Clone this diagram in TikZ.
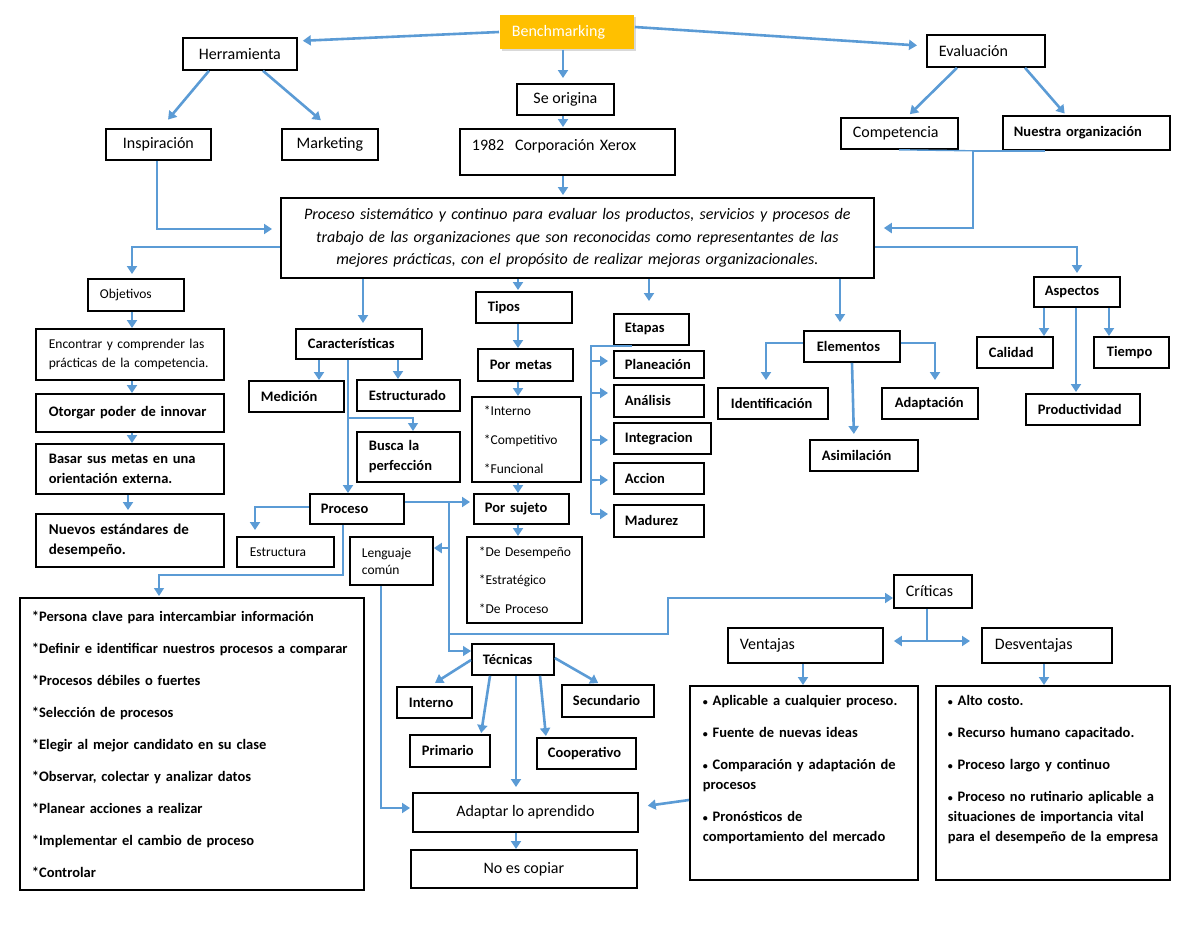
\documentclass[tikz,border=0pt]{standalone}
\usepackage{fontspec}
\setmainfont{Carlito}
\usetikzlibrary{arrows.meta,shadows}
\definecolor{ln}{HTML}{5B9BD5}
\definecolor{gold}{HTML}{FFC000}
\newcommand\bul{\raisebox{0.8pt}{\fontsize{10}{10}\selectfont\textbullet}\ }
\newcommand\bxc[7][]{%
  \pgfmathsetmacro\bxW{#5-#3}\pgfmathsetmacro\bxH{#6-#4}%
  \node[bxs,minimum width=\bxW pt,minimum height=\bxH pt,align=center,#1] (#2) at (#3,#4) {#7};}
\newcommand\bxl[8][]{%
  \pgfmathsetmacro\bxW{#5-#3}\pgfmathsetmacro\bxH{#6-#4}\pgfmathsetmacro\bxT{#5-#3-2*#7}%
  \node[bxs,minimum width=\bxW pt,minimum height=\bxH pt,inner xsep=#7pt,text width=\bxT pt,align=left,#1] (#2) at (#3,#4) {#8};}
\begin{document}
\begin{tikzpicture}[x=1pt,y=-1pt,
  bxs/.style={draw=black,line width=1.8pt,anchor=north west,inner ysep=0pt,inner xsep=0pt,fill=white},
  rg/.style={font=\fontsize{16}{19}\selectfont},
  bd/.style={font=\fontsize{14.5}{20}\selectfont\bfseries},
  sm/.style={font=\fontsize{13.5}{18}\selectfont},
  con/.style={draw=ln,line width=2.6pt,-{Triangle[length=8pt,width=10pt]}},
  tcon/.style={draw=ln,line width=1.4pt,-{Triangle[length=8pt,width=10pt]}},
  mcon/.style={draw=ln,line width=1.8pt,-{Triangle[length=8pt,width=10pt]}},
  pln/.style={draw=ln,line width=2.6pt},
  tln/.style={draw=ln,line width=1.4pt}]
\useasboundingbox (0,0) rectangle (1200,927);
% top
\bxl[rg,draw=none,fill=gold,text=white,drop shadow={opacity=0.3,shadow xshift=2pt,shadow yshift=-2pt}]{bench}{499}{14}{633}{48}{12}{Benchmarking}
\bxc[rg]{herr}{182}{37}{296}{69}{Herramienta}
\bxc[rg]{insp}{105}{128}{210}{159}{Inspiración}
\bxc[rg]{mark}{281}{128}{377}{159}{Marketing}
\bxc[rg]{seo}{516}{83}{613}{114}{Se origina}
\bxl[rg]{xerox}{459}{128}{674}{174}{12}{1982\ \ Corporación Xerox\\[-6pt]\mbox{}}
\bxl[rg]{eval}{926}{34}{1044}{66}{12}{Evaluación}
\bxl[rg]{comp}{840}{117}{957}{148}{12}{Competencia}
\bxl[bd]{nues}{1002}{115}{1169}{149}{11}{Nuestra organización}
\bxl[font=\fontsize{16}{22.5}\selectfont\itshape,align=center]{main}{280}{197}{873}{277}{6}{Proceso sistemático y continuo para evaluar los productos, servicios y procesos de\\trabajo de las organizaciones que son reconocidas como representantes de las\\mejores prácticas, con el propósito de realizar mejoras organizacionales.}
% objetivos
\bxl[sm]{obj}{87}{278}{183}{310}{12}{Objetivos}
\bxl[font=\fontsize{13.5}{18.5}\selectfont]{enc}{35}{328}{223}{379}{13}{Encontrar y comprender las\\prácticas de la competencia.}
\bxl[bd]{oto}{35}{393}{223}{431}{13}{Otorgar poder de innovar}
\bxl[bd]{bas}{35}{443}{223}{493}{13}{Basar sus metas en una\\orientación externa.}
\bxl[font=\fontsize{15}{20}\selectfont\bfseries]{nue}{35}{513}{223}{566}{13}{Nuevos estándares de\\desempeño.}
% caracteristicas
\bxl[bd]{car}{295}{328}{421}{358}{12}{Características}
\bxl[bd]{med}{248}{380}{343}{411}{12}{Medición}
\bxl[bd]{est}{356}{379}{459}{410}{12}{Estructurado}
\bxl[bd]{bus}{356}{431}{459}{481}{12}{Busca la\\perfección}
\bxl[bd]{pro}{309}{493}{403}{523}{11}{Proceso}
\bxl[sm]{estr}{236}{536}{333}{566}{13}{Estructura}
\bxl[font=\fontsize{13.5}{17}\selectfont]{len}{349}{536}{432}{584}{12}{Lenguaje\\común}
% tipos
\bxl[bd]{tip}{475}{291}{571}{322}{12}{Tipos}
\bxl[bd]{pme}{477}{348}{572}{380}{12}{Por metas}
\bxl[font=\fontsize{13.5}{29}\selectfont]{pml}{471}{396}{580}{481}{12}{\mbox{*Interno}\\\mbox{*Competitivo}\\\mbox{*Funcional}}
\bxl[bd]{psu}{473}{493}{568}{523}{11}{Por sujeto}
\bxl[font=\fontsize{13.5}{28.5}\selectfont]{psl}{466}{536}{581}{622}{12}{\mbox{*De Desempeño}\\\mbox{*Estratégico}\\\mbox{*De Proceso}}
% etapas
\bxl[bd]{eta}{613}{313}{688}{344}{11}{Etapas}
\bxl[bd]{pla}{613}{350}{703}{377}{11}{Planeación}
\bxl[bd]{ana}{613}{384}{703}{416}{11}{Análisis}
\bxl[bd]{int}{613}{422}{710}{453}{11}{Integracion}
\bxl[bd]{acc}{613}{462}{703}{493}{11}{Accion}
\bxl[bd]{mad}{613}{504}{703}{536}{11}{Madurez}
% elementos / aspectos
\bxl[bd]{ele}{803}{330}{899}{361}{13}{Elementos}
\bxl[bd]{ide}{717}{387}{827}{418}{13}{Identificación}
\bxl[bd]{ada}{881}{387}{977}{418}{13}{Adaptación}
\bxl[bd]{asi}{809}{439}{917}{470}{12}{Asimilación}
\bxl[bd]{asp}{1033}{276}{1119}{306}{11}{Aspectos}
\bxl[bd]{cal}{976}{336}{1052}{367}{12}{Calidad}
\bxl[bd]{tie}{1093}{336}{1168}{367}{13}{Tiempo}
\bxl[bd]{prd}{1025}{393}{1139}{424}{12}{Productividad}
% big list
\bxl[font=\fontsize{14.5}{32}\selectfont\bfseries]{big}{19}{597}{363}{889}{12}{\mbox{*Persona clave para intercambiar información}\\\mbox{*Definir e identificar nuestros procesos a comparar}\\\mbox{*Procesos débiles o fuertes}\\\mbox{*Selección de procesos}\\\mbox{*Elegir al mejor candidato en su clase}\\\mbox{*Observar, colectar y analizar datos}\\\mbox{*Planear acciones a realizar}\\\mbox{*Implementar el cambio de proceso}\\\mbox{*Controlar}}
% tecnicas
\bxl[bd]{tec}{471}{643}{553}{674}{11}{Técnicas}
\bxl[bd]{tin}{396}{686}{471}{717}{12}{Interno}
\bxl[bd]{sec}{561}{684}{653}{716}{11}{Secundario}
\bxl[bd]{pri}{409}{734}{489}{766}{12}{Primario}
\bxl[bd]{coo}{536}{737}{635}{768}{11}{Cooperativo}
\bxc[rg]{adap}{412}{792}{637}{831}{Adaptar lo aprendido}
\bxc[rg]{noes}{410}{849}{636}{887}{No es copiar}
% criticas
\bxl[rg]{cri}{893}{574}{971}{607}{12}{Críticas}
\bxl[rg]{ven}{727}{627}{882}{662}{12}{Ventajas}
\bxl[rg]{des}{981}{627}{1111}{662}{13}{Desventajas}
\bxl[font=\fontsize{14.5}{20}\selectfont\bfseries]{vl}{689}{685}{917}{879}{13}{\bul Aplicable a cualquier proceso.\\[12pt]\bul Fuente de nuevas ideas\\[12pt]\bul Comparación y adaptación de\\procesos\\[12pt]\bul Pronósticos de\\comportamiento del mercado\\[8pt]\mbox{}}
\bxl[font=\fontsize{14.5}{20}\selectfont\bfseries]{dl}{935}{685}{1169}{879}{12}{\bul Alto costo.\\[12pt]\bul Recurso humano capacitado.\\[12pt]\bul Proceso largo y continuo\\[12pt]\bul Proceso no rutinario aplicable a\\\mbox{situaciones de importancia vital}\\\mbox{para el desempeño de la empresa}\\[8pt]\mbox{}}
% ---------- connectors ----------
\draw[con,shorten >=5pt] (bench.west |- 0,32) -- (herr.east |- 0,41);
\draw[con,shorten >=9pt] (bench.east |- 0,27) -- (eval.west |- 0,46);
\draw[con,shorten >=5pt] (bench.south -| 563,0) -- (seo.north -| 563,0);
\draw[con,shorten >=1pt] (seo.south -| 563,0) -- (xerox.north -| 563,0);
\draw[con,shorten >=2pt] (xerox.south -| 563,0) -- (main.north -| 563,0);
\draw[con,shorten >=11pt] (herr.south -| 209,0) -- (insp.north -| 161,0);
\draw[con,shorten >=12pt] (herr.south -| 263,0) -- (mark.north -| 330,0);
\draw[con,shorten >=8pt] (insp.south -| 157,0) |- (main.west |- 0,229);
\draw[tln] (comp.south -| 899,0) -- (nues.south -| 973,0);
\draw[con,shorten >=9pt] (nues.south -| 1045,0) -| (973,228) -- (main.east |- 0,228);
\draw[con,shorten >=4pt] (eval.south -| 957,0) -- (comp.north -| 907,0);
\draw[con,shorten >=2pt] (eval.south -| 1025,0) -- (nues.north -| 1066,0);
\draw[con,shorten >=4pt] (main.west |- 0,247) -| (obj.north -| 132,0);
\draw[con,shorten >=5pt] (main.south -| 363,0) -- (car.north -| 363,0);
\draw[con,shorten >=1pt] (main.south -| 518,0) -- (tip.north -| 518,0);
\draw[con,shorten >=12pt] (main.south -| 649,0) -- (eta.north -| 649,0);
\draw[con,shorten >=8pt] (main.south -| 840,0) -- (ele.north -| 840,0);
\draw[con,shorten >=3pt] (main.east |- 0,247) -| (asp.north -| 1077,0);
% objetivos chain
\draw[con] (obj.south -| 132,0) -- (enc.north -| 132,0);
\draw[con] (enc.south -| 132,0) -- (oto.north -| 132,0);
\draw[con] (oto.south -| 132,0) -- (bas.north -| 132,0);
\draw[con,shorten >=3pt] (bas.south -| 128,0) -- (nue.north -| 128,0);
% caracteristicas
\draw[con] (car.south -| 319,0) -- (med.north -| 319,0);
\draw[con] (car.south -| 398,0) -- (est.north -| 398,0);
\draw[con] (car.south -| 348,0) -- (pro.north -| 348,0);
\coordinate (j1) at (348,418);
\draw[tcon] (j1) -| (bus.north -| 413,0);
\draw[con,shorten >=6pt] (pro.west |- 0,507) -| (estr.north -| 255,0);
\draw[con,shorten >=3pt] (pro.east |- 0,502) -- (psu.west |- 0,502);
\coordinate (j2) at (449,502);
\coordinate (j3) at (449,634);
\draw[con] (j2) |- (len.east |- 0,548);
\draw[mcon] (j2) -- (j3) -| (668,598) -- (cri.west |- 0,598);
\draw[tcon] (j3) |- (tec.west |- 0,651);
\draw[tcon,shorten >=1pt] (pro.south -| 343,0) |- (159,575) -- (big.north -| 159,0);
\draw[con,shorten >=2pt] (len.south -| 381,0) |- (adap.west |- 0,808);
% tipos chain
\draw[con] (tip.south -| 518,0) -- (pme.north -| 518,0);
\draw[con] (pme.south -| 518,0) -- (pml.north -| 518,0);
\draw[con] (pml.south -| 518,0) -- (psu.north -| 518,0);
\draw[con] (psu.south -| 518,0) -- (psl.north -| 518,0);
% etapas
\draw[pln] (eta.south -| 632,0) -| (591,514);
\foreach \n/\y in {pla/361,ana/393,int/440,acc/480,mad/514}
  \draw[con,shorten >=5pt] (591,\y) -- (\n.west |- 0,\y);
% elementos
\draw[con,shorten >=7pt] (ele.west |- 0,343) -| (ide.north -| 766,0);
\draw[con,shorten >=7pt] (ele.east |- 0,343) -| (ada.north -| 935,0);
\draw[con,shorten >=5pt] (ele.south -| 852,0) -- (asi.north -| 854,0);
% aspectos
\draw[con] (asp.south -| 1044,0) -- (cal.north -| 1044,0);
\draw[con,shorten >=1pt] (asp.south -| 1076,0) -- (prd.north -| 1076,0);
\draw[con] (asp.south -| 1109,0) -- (tie.north -| 1109,0);
% tecnicas
\draw[con,shorten >=6pt] (tec.west |- 0,660) -- (tin.north -| 430,0);
\draw[con,shorten >=1pt] (tec.south -| 490,0) -- (pri.north -| 481,0);
\draw[con,shorten >=5pt] (tec.south -| 516,0) -- (adap.north -| 516,0);
\draw[con,shorten >=1pt] (tec.south -| 540,0) -- (coo.north -| 546,0);
\draw[con,shorten >=2pt] (tec.east |- 0,658) -- (sec.north -| 600,0);
\draw[con] (adap.south -| 516,0) -- (noes.north -| 516,0);
\draw[con,shorten >=9pt] (vl.west |- 0,800) -- (adap.east |- 0,807);
% criticas
\draw[tln] (cri.south -| 927,0) -- (927,641);
\draw[con,{Triangle[length=8pt,width=10pt]}-{Triangle[length=8pt,width=10pt]},shorten <=10pt,shorten >=11pt] (ven.east |- 0,641) -- (des.west |- 0,641);
\draw[con] (ven.south -| 803,0) -- (vl.north -| 803,0);
\draw[con] (des.south -| 1044,0) -- (dl.north -| 1044,0);
\end{tikzpicture}
\end{document}
